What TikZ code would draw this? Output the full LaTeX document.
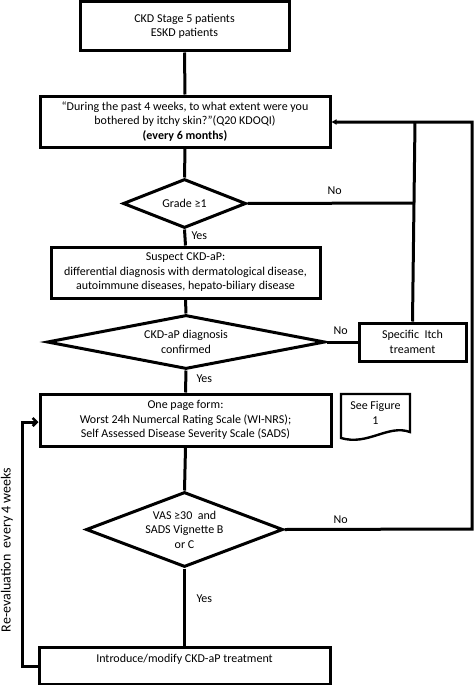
\documentclass[tikz,border=0pt]{standalone}
\usepackage{fontspec}
\setmainfont{Carlito}
\usetikzlibrary{shapes.geometric,arrows.meta}
\begin{document}
\begin{tikzpicture}[x=1pt,y=-1pt,
  font=\fontsize{12}{14.5}\selectfont,
  line width=3pt,
  box/.style={draw,rectangle,align=center,inner sep=0pt},
  dia/.style={draw,diamond,inner sep=0pt},
  txt/.style={inner sep=0pt,align=center},
  lbl/.style={inner sep=0pt,anchor=west},
  conn/.style={line width=3pt}]
\useasboundingbox (0,0) rectangle (474,685);
\node[box,minimum width=209pt,minimum height=49pt] (b1) at (184.5,26.5) {CKD Stage 5 patients\\ESKD patients};
\node[box,minimum width=290pt,minimum height=51pt] (b2) at (185,121.5) {“During the past 4 weeks, to what extent were you\\bothered by itchy skin?”(Q20 KDOQI)\\\textbf{(every 6 months)}};
\node[dia,minimum width=123pt,minimum height=49pt] (d1) at (184.5,203.5) {};
\node[txt] (t1) at (d1) {Grade ≥1};
\node[box,minimum width=269pt,minimum height=51pt] (b3) at (185.5,272.5) {Suspect CKD-aP:\\differential diagnosis with dermatological disease,\\autoimmune diseases, hepato-biliary disease};
\node[dia,minimum width=278pt,minimum height=54pt] (d2) at (186,342) {};
\node[txt] (t2) at (d2) {CKD-aP diagnosis\\confirmed};
\node[box,minimum width=107pt,minimum height=38pt] (sp) at (412.5,342) {Specific\ \ Itch\\treament};
\node[box,minimum width=291pt,minimum height=52pt] (b4) at (185.5,420) {One page form:\\Worst 24h Numercal Rating Scale (WI-NRS);\\Self Assessed Disease Severity Scale (SADS)};
\node[dia,minimum width=197pt,minimum height=75pt] (d3) at (184.5,529.5) {};
\node[txt] (t3) at (d3) {VAS ≥30\ \ and\\SADS Vignette B\\or C};
\node[box,minimum width=291pt,minimum height=37pt] (b5) at (184.5,665.5) {};
\node[txt] (t5) at (184.5,659) {Introduce/modify CKD-aP treatment};
% document shape
\draw[line width=2.4pt] (341,394) -- (410,394) -- (410,432) .. controls (388,424) and (368,446) .. (341,438) -- cycle;
\node[txt] (sf) at (375.5,413) {See Figure\\1};
% coordinates
\coordinate (c1) at (415,203);
\coordinate (c2) at (415,122);
\coordinate (c3) at (472,529);
\coordinate (c4) at (472,122);
\coordinate (c5) at (22,666);
\coordinate (c6) at (22,422);
% connectors
\draw[conn] (b1.south) -- (b2.north);
\draw[conn] (b2.south) -- (d1.north);
\draw[conn] (d1.south) -- (b3.north);
\draw[conn] (d1.east) -- (c1);
\draw[conn] (b3.south) -- (d2.north);
\draw[conn] (d2.east) -- (sp.west);
\draw[conn] (sp.north) -- (c2);
\draw[conn] (d2.south) -- (b4.north);
\draw[conn] (b4.south) -- (d3.north);
\draw[conn,-{Triangle[length=5pt,width=5pt]}] (d3.east) -- (c3) -- (c4) -- (b2.east |- c4);
\draw[conn] (d3.south) -- (b5.north);
\draw[conn,-{Straight Barb[length=4pt,width=8pt,line width=2.6pt]}] (b5.west |- c5) -- (c5) -- (c6) -- (b4.west |- c6);
% labels
\node[lbl] (y1) at (190,236) {Yes};
\node[lbl] (n1) at (326,191) {No};
\node[lbl] (n2) at (332,331) {No};
\node[lbl] (y2) at (195,379) {Yes};
\node[lbl] (n3) at (332,520) {No};
\node[lbl] (y3) at (195,599) {Yes};
\node[rotate=90,inner sep=0pt,font=\fontsize{14}{16}\selectfont] (re) at (7,550) {Re-evaluation\ \ every 4 weeks};
\end{tikzpicture}
\end{document}
